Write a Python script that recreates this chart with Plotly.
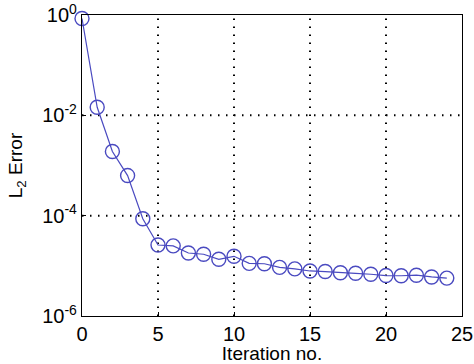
import plotly.graph_objects as go

iterations = list(range(25))
l2_error = [0.85, 0.0145, 0.0019, 6.3e-4, 8.7e-5, 2.6e-5, 2.5e-5, 1.8e-5, 1.7e-5,
            1.35e-5, 1.55e-5, 1.12e-5, 1.1e-5, 9.3e-6, 8.7e-6, 7.9e-6, 7.7e-6,
            7.3e-6, 7.1e-6, 6.8e-6, 6.4e-6, 6.35e-6, 6.5e-6, 6.0e-6, 5.7e-6]

x_ticks = [0, 5, 10, 15, 20, 25]
y_tickvals = [1e-6, 1e-4, 1e-2, 1]
y_ticktext = ["10<sup>-6</sup>", "10<sup>-4</sup>", "10<sup>-2</sup>", "10<sup>0</sup>"]

blue = "#4a4ac0"
fig = go.Figure()
fig.add_trace(go.Scatter(
    x=iterations, y=l2_error, mode="lines+markers",
    line=dict(color=blue, width=1.2),
    marker=dict(symbol="circle-open", size=14, color=blue, line=dict(width=1.4, color=blue)),
    cliponaxis=False,
))

font = dict(family="Liberation Sans, Arial, sans-serif", size=20, color="black")
fig.update_layout(
    width=474, height=364,
    margin=dict(l=82, r=12, t=15, b=48),
    paper_bgcolor="white", plot_bgcolor="white",
    showlegend=False,
    font=font,
    xaxis=dict(
        range=[0, 25], tickvals=x_ticks, showgrid=False, zeroline=False,
        showline=True, linecolor="black", linewidth=1.2, mirror=True,
        ticks="inside", ticklen=4, tickcolor="black", automargin=False,
        title=dict(text="Iteration no.", standoff=0, font=dict(size=19)),
        tickfont=dict(size=20),
    ),
    yaxis=dict(
        type="log", range=[-6, 0], tickvals=y_tickvals, ticktext=y_ticktext,
        showgrid=False, zeroline=False,
        showline=True, linecolor="black", linewidth=1.2, mirror=True,
        ticks="inside", ticklen=4, tickcolor="black", automargin=False,
        title=dict(text="L<sub>2</sub> Error", standoff=14, font=dict(size=19)),
        tickfont=dict(size=20),
    ),
)

# dotted grid lines at interior ticks
dots = "1.5px,6.5px"
for xv in [5, 10, 15, 20]:
    fig.add_shape(type="line", xref="x", yref="paper", x0=xv, x1=xv, y0=0, y1=1,
                  line=dict(color="black", width=2, dash=dots), layer="below")
for yv in [1e-4, 1e-2]:
    fig.add_shape(type="line", xref="paper", yref="y", x0=0, x1=1, y0=yv, y1=yv,
                  line=dict(color="black", width=2, dash=dots), layer="below")

fig.write_html("out.html", config={"displayModeBar": False},
               post_script="document.body.style.margin='0';")
